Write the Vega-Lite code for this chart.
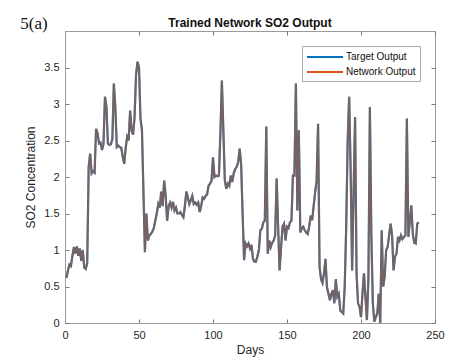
{
"$schema": "https://vega.github.io/schema/vega-lite/v6.json",
"width": 370, "height": 292,
"autosize": {"type": "none"},
"padding": {"left": 65, "top": 31, "right": 39, "bottom": 40},
"background": "white",
"config": {"view": {"stroke": "#9a9a9a", "strokeWidth": 1}, "font": "Liberation Sans"},
"title": {"text": "Trained Network SO2 Output", "fontSize": 12, "fontWeight": "bold", "color": "#111111", "anchor": "middle", "offset": -15, "font": "Liberation Sans"},
"datasets": {"so2": [
{"d":1,"t":0.62},{"d":2,"t":0.72},{"d":3,"t":0.80},{"d":4,"t":0.78},{"d":5,"t":0.92},{"d":6,"t":1.04},{"d":7,"t":0.95},{"d":8,"t":1.05},{"d":9,"t":0.92},{"d":10,"t":1.02},
{"d":11,"t":0.85},{"d":12,"t":1.00},{"d":13,"t":0.76},{"d":14,"t":0.74},{"d":15,"t":0.82},{"d":16,"t":2.14},{"d":17,"t":2.32},{"d":18,"t":2.05},{"d":19,"t":2.08},{"d":20,"t":2.06},
{"d":21,"t":2.66},{"d":22,"t":2.60},{"d":23,"t":2.46},{"d":24,"t":2.47},{"d":25,"t":2.37},{"d":26,"t":2.45},{"d":27,"t":3.10},{"d":28,"t":2.96},{"d":29,"t":2.46},{"d":30,"t":2.44},
{"d":31,"t":2.45},{"d":32,"t":2.52},{"d":33,"t":3.28},{"d":34,"t":2.96},{"d":35,"t":2.41},{"d":36,"t":2.43},{"d":37,"t":2.41},{"d":38,"t":2.40},{"d":39,"t":2.28},{"d":40,"t":2.18},
{"d":41,"t":2.40},{"d":42,"t":2.55},{"d":43,"t":2.50},{"d":44,"t":2.91},{"d":45,"t":2.64},{"d":46,"t":2.58},{"d":47,"t":2.82},{"d":48,"t":3.40},{"d":49,"t":3.58},{"d":50,"t":3.50},
{"d":51,"t":2.80},{"d":52,"t":2.64},{"d":53,"t":1.80},{"d":54,"t":0.97},{"d":55,"t":1.50},{"d":56,"t":1.13},{"d":57,"t":1.20},{"d":58,"t":1.22},{"d":59,"t":1.25},{"d":60,"t":1.30},
{"d":61,"t":1.40},{"d":62,"t":1.50},{"d":63,"t":1.63},{"d":64,"t":1.58},{"d":65,"t":1.80},{"d":66,"t":1.60},{"d":67,"t":1.95},{"d":68,"t":1.75},{"d":69,"t":1.40},{"d":70,"t":1.60},
{"d":71,"t":1.65},{"d":72,"t":1.58},{"d":73,"t":1.66},{"d":74,"t":1.54},{"d":75,"t":1.58},{"d":76,"t":1.50},{"d":77,"t":1.50},{"d":78,"t":1.52},{"d":79,"t":1.48},{"d":80,"t":1.45},
{"d":81,"t":1.60},{"d":82,"t":1.80},{"d":83,"t":1.72},{"d":84,"t":1.63},{"d":85,"t":1.68},{"d":86,"t":1.74},{"d":87,"t":1.63},{"d":88,"t":1.65},{"d":89,"t":1.62},{"d":90,"t":1.65},
{"d":91,"t":1.52},{"d":92,"t":1.60},{"d":93,"t":1.72},{"d":94,"t":1.70},{"d":95,"t":1.74},{"d":96,"t":1.76},{"d":97,"t":1.88},{"d":98,"t":1.91},{"d":99,"t":1.95},{"d":100,"t":2.27},
{"d":101,"t":2.00},{"d":102,"t":2.02},{"d":103,"t":2.01},{"d":104,"t":2.02},{"d":105,"t":2.60},{"d":106,"t":3.32},{"d":107,"t":2.64},{"d":108,"t":1.95},{"d":109,"t":1.84},{"d":110,"t":1.91},
{"d":111,"t":1.88},{"d":112,"t":2.02},{"d":113,"t":1.93},{"d":114,"t":2.05},{"d":115,"t":2.11},{"d":116,"t":2.14},{"d":117,"t":2.20},{"d":118,"t":2.39},{"d":119,"t":2.18},{"d":120,"t":1.50},
{"d":121,"t":0.86},{"d":122,"t":1.09},{"d":123,"t":1.05},{"d":124,"t":1.09},{"d":125,"t":1.02},{"d":126,"t":1.07},{"d":127,"t":0.88},{"d":128,"t":0.84},{"d":129,"t":0.84},{"d":130,"t":0.91},
{"d":131,"t":1.00},{"d":132,"t":1.27},{"d":133,"t":1.29},{"d":134,"t":1.38},{"d":135,"t":1.40},{"d":136,"t":2.69},{"d":137,"t":0.95},{"d":138,"t":1.13},{"d":139,"t":1.04},{"d":140,"t":1.10},
{"d":141,"t":1.13},{"d":142,"t":1.20},{"d":143,"t":1.98},{"d":144,"t":1.32},{"d":145,"t":0.72},{"d":146,"t":1.04},{"d":147,"t":1.32},{"d":148,"t":1.36},{"d":149,"t":1.13},{"d":150,"t":1.32},
{"d":151,"t":1.30},{"d":152,"t":1.38},{"d":153,"t":1.40},{"d":154,"t":2.02},{"d":155,"t":2.02},{"d":156,"t":3.28},{"d":157,"t":1.54},{"d":158,"t":2.64},{"d":159,"t":1.24},{"d":160,"t":1.30},
{"d":161,"t":1.32},{"d":162,"t":1.27},{"d":163,"t":1.24},{"d":164,"t":1.22},{"d":165,"t":1.32},{"d":166,"t":1.47},{"d":167,"t":1.41},{"d":168,"t":1.60},{"d":169,"t":1.79},{"d":170,"t":1.95},
{"d":171,"t":2.73},{"d":172,"t":0.77},{"d":173,"t":0.60},{"d":174,"t":0.55},{"d":175,"t":0.68},{"d":176,"t":0.88},{"d":177,"t":0.49},{"d":178,"t":0.40},{"d":179,"t":0.31},{"d":180,"t":0.40},
{"d":181,"t":0.45},{"d":182,"t":0.27},{"d":183,"t":0.60},{"d":184,"t":0.36},{"d":185,"t":0.40},{"d":186,"t":0.17},{"d":187,"t":0.15},{"d":188,"t":0.13},{"d":189,"t":0.50},{"d":190,"t":1.32},
{"d":191,"t":2.50},{"d":192,"t":3.10},{"d":193,"t":2.10},{"d":194,"t":0.72},{"d":195,"t":1.80},{"d":196,"t":2.82},{"d":197,"t":0.68},{"d":198,"t":0.27},{"d":199,"t":0.22},{"d":200,"t":0.08},
{"d":201,"t":0.40},{"d":202,"t":0.68},{"d":203,"t":0.36},{"d":204,"t":0.04},{"d":205,"t":0.60},{"d":206,"t":2.96},{"d":207,"t":1.20},{"d":208,"t":0.27},{"d":209,"t":0.02},{"d":210,"t":0.08},
{"d":211,"t":0.13},{"d":212,"t":0.40},{"d":213,"t":0.00},{"d":214,"t":1.27},{"d":215,"t":0.50},{"d":216,"t":0.64},{"d":217,"t":1.00},{"d":218,"t":1.04},{"d":219,"t":1.20},{"d":220,"t":1.36},
{"d":221,"t":1.20},{"d":222,"t":0.72},{"d":223,"t":0.91},{"d":224,"t":0.95},{"d":225,"t":1.18},{"d":226,"t":1.13},{"d":227,"t":1.20},{"d":228,"t":1.15},{"d":229,"t":1.18},{"d":230,"t":1.20},
{"d":231,"t":2.80},{"d":232,"t":1.18},{"d":233,"t":1.40},{"d":234,"t":1.61},{"d":235,"t":1.22},{"d":236,"t":1.10},{"d":237,"t":1.09},{"d":238,"t":1.36},{"d":239,"t":1.38}
]},
"layer": [
 {"data": {"name": "so2"},
  "mark": {"type": "line", "strokeWidth": 2.2, "clip": true},
  "encoding": {
   "x": {"field": "d", "type": "quantitative", "scale": {"domain": [0, 250], "nice": false},
         "axis": {"orient": "bottom", "values": [0,50,100,150,200,250], "title": "Days", "titleFontSize": 12, "titleFontWeight": "normal", "titleColor": "#262626", "titlePadding": 4, "labelFontSize": 11, "labelColor": "#262626", "tickSize": -4, "tickColor": "#777777", "domainColor": "#9a9a9a", "labelPadding": 10, "grid": false, "labelFlush": false}},
   "y": {"field": "t", "type": "quantitative", "scale": {"domain": [0, 4], "nice": false},
         "axis": {"orient": "left", "values": [0,0.5,1,1.5,2,2.5,3,3.5], "labelExpr": "'' + datum.value", "title": "SO2 Concentration", "titleFontSize": 12, "titleFontWeight": "normal", "titleColor": "#262626", "titlePadding": 6, "labelFontSize": 11, "labelColor": "#262626", "tickSize": -4, "tickColor": "#777777", "domainColor": "#9a9a9a", "labelPadding": 10, "grid": false}},
   "color": {"datum": "Target Output", "type": "nominal",
     "scale": {"domain": ["Target Output", "Network Output"], "range": ["#0072BD", "#D95319"]},
     "legend": {"title": null, "orient": "top-right", "offset": 15, "padding": 4, "strokeColor": "#aaaaaa", "fillColor": "white", "symbolType": "M-3,0H3", "symbolSize": 144, "symbolStrokeWidth": 2, "symbolOpacity": 1, "symbolOffset": 12, "labelFontSize": 10, "labelColor": "#111111", "rowPadding": 3, "labelOffset": 14, "cornerRadius": 0,
       "encode": {"symbols": {"update": {"opacity": {"value": 1}, "strokeOpacity": {"value": 1}}}}}}
  }},
 {"data": {"name": "so2"},
  "mark": {"type": "line", "strokeWidth": 2, "opacity": 0.55, "clip": true},
  "encoding": {
   "x": {"field": "d", "type": "quantitative",
         "axis": {"orient": "top", "values": [0,50,100,150,200,250], "title": null, "labels": false, "tickSize": -4, "tickColor": "#777777", "domain": false, "grid": false, "minExtent": 0, "maxExtent": 0}},
   "y": {"field": "t", "type": "quantitative",
         "axis": {"orient": "right", "values": [0,0.5,1,1.5,2,2.5,3,3.5], "title": null, "labels": false, "tickSize": -4, "tickColor": "#777777", "domain": false, "grid": false}},
   "color": {"datum": "Network Output", "type": "nominal"}
  }},
 {"data": {"values": [{"label": "5(a)", "x": -21, "y": 4.1}]},
  "mark": {"type": "text", "font": "Liberation Serif", "fontSize": 17, "color": "#111111", "baseline": "middle", "align": "center"},
  "encoding": {
   "x": {"field": "x", "type": "quantitative", "axis": null},
   "y": {"field": "y", "type": "quantitative", "axis": null},
   "text": {"field": "label"}
  }}
],
"resolve": {"axis": {"x": "independent", "y": "independent"}}
}
